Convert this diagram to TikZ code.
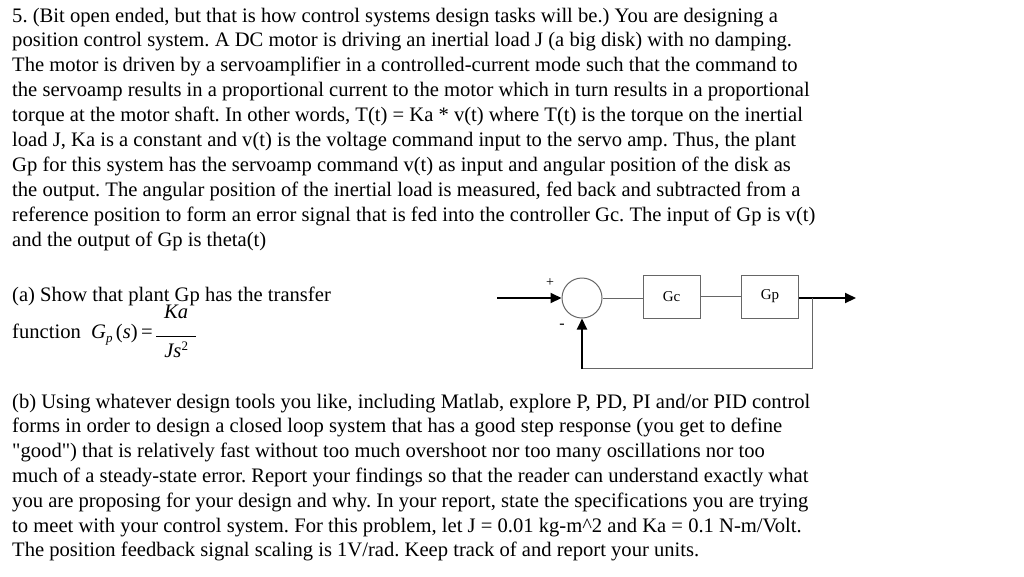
\documentclass[tikz,border=0pt]{standalone}
\usepackage{fontspec}
\setmainfont{Liberation Serif}
\usetikzlibrary{arrows.meta}
\begin{document}
\frenchspacing
\begin{tikzpicture}[x=1pt,y=-1pt,
  ln/.style={anchor=base west,inner sep=0pt,font=\fontsize{20.6}{22}\selectfont\frenchspacing},
  blk/.style={draw=black!60,line width=1pt,minimum width=57pt,minimum height=43pt,font=\fontsize{15}{16}\selectfont},
  wire/.style={draw=black!60,line width=1pt},
  arr/.style={line width=2pt,-{Triangle[length=11pt,width=10pt]}}]
\useasboundingbox (0,0) rectangle (1024,576);
\foreach \t [count=\i from 0] in {
5. (Bit open ended{,} but that is how control systems design tasks will be.) You are designing a,
position control system. A DC motor is driving an inertial load J (a big disk) with no damping.,
The motor is driven by a servoamplifier in a controlled-current mode such that the command to,
the servoamp results in a proportional current to the motor which in turn results in a proportional,
torque at the motor shaft. In other words{,} T(t) = Ka * v(t) where T(t) is the torque on the inertial,
load J{,} Ka is a constant and v(t) is the voltage command input to the servo amp. Thus{,} the plant,
Gp for this system has the servoamp command v(t) as input and angular position of the disk as,
the output. The angular position of the inertial load is measured{,} fed back and subtracted from a,
reference position to form an error signal that is fed into the controller Gc. The input of Gp is v(t),
and the output of Gp is theta(t)}
  \node[ln] (l\i) at (12,22+24.9*\i) {\t};
\node[ln] (a1) at (12,301) {(a) Show that plant Gp has the transfer};
\node[ln] (a2) at (12,338) {function\ \ \textit{G}\raisebox{-4pt}{\fontsize{13}{13}\selectfont\textit{p}}\,(\textit{s})\,=\,\raisebox{-0.5pt}{$\vcenter{\hbox{\begin{tabular}{@{}c@{}}\textit{Ka}\\[-3pt]\rule{40pt}{1pt}\\[-2pt]\textit{Js}\raisebox{7pt}{\fontsize{13}{13}\selectfont 2}\end{tabular}}}$}};
\foreach \t [count=\i from 0] in {
(b) Using whatever design tools you like{,} including Matlab{,} explore P{,} PD{,} PI and/or PID control,
forms in order to design a closed loop system that has a good step response (you get to define,
\textquotedbl good\textquotedbl) that is relatively fast without too much overshoot nor too many oscillations nor too,
much of a steady-state error. Report your findings so that the reader can understand exactly what,
you are proposing for your design and why. In your report{,} state the specifications you are trying,
to meet with your control system. For this problem{,} let J = 0.01 kg-m\textasciicircum2 and Ka = 0.1 N-m/Volt.,
The position feedback signal scaling is 1V/rad. Keep track of and report your units.}
  \node[ln] (b\i) at (12,408+24.8*\i) {\t};
% block diagram
\node[circle,draw=black!60,line width=1pt,minimum size=40pt,inner sep=0pt] (sum) at (582,298) {};
\node[blk] (gc) at (671.5,296.5) {Gc};
\node[blk] (gp) at (770,296.5) {Gp};
\coordinate (in) at (497,298);
\coordinate (out) at (856,298);
\coordinate (br) at (812,298);
\draw[arr] (in) -- (sum.west);
\draw[wire] (sum.east) -- (sum.east -| gc.west);
\draw[wire] (gc.east |- gp.west) -- (gp.west);
\draw[arr] (gp.east |- out) -- (out);
\draw[wire] (br) -- (812,368) -- (582,368);
\draw[arr] (582,369) -- (sum.south);
\node[font=\fontsize{14}{14}\selectfont] (plus) at (550,283) {+};
\node[font=\fontsize{16}{16}\selectfont] (minus) at (562,326) {-};
\end{tikzpicture}
\end{document}
